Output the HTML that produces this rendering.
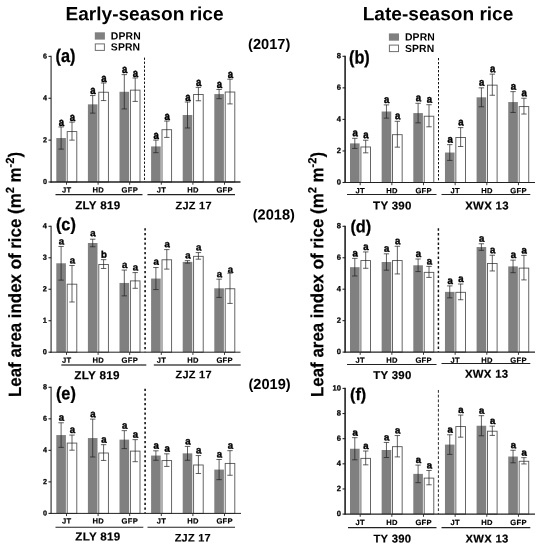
<!DOCTYPE html>
<html lang="en">
<head>
<meta charset="utf-8">
<title>Leaf area index of rice</title>
<style>
html,body{margin:0;padding:0;background:#fff;}
body{width:539px;height:550px;overflow:hidden;}
svg{display:block;font-family:'Liberation Sans', Arial, sans-serif;font-weight:bold;fill:#000;}
svg text.b{stroke:#000;stroke-width:0.25px;stroke-linejoin:round;}
svg text.d{stroke:#000;stroke-width:0.18px;stroke-linejoin:round;}
svg text.c{stroke:#000;stroke-width:0.4px;stroke-linejoin:round;}
</style>
</head>
<body>
<svg width="539" height="550" viewBox="0 0 539 550" font-family="'Liberation Sans', Arial, sans-serif" font-weight="bold" fill="#000">
<rect x="0" y="0" width="539" height="550" fill="#fff"/>
<g>
<line x1="144.5" y1="57.6" x2="144.5" y2="182" stroke="#141414" stroke-width="1.0" stroke-dasharray="2.3 1.7"/>
<rect x="56.3" y="138.04" width="9.6" height="43.96" fill="#808080"/>
<path d="M61.1 126.95V149.13M58.4 126.95H63.8M58.4 149.13H63.8" stroke="#1e1e1e" stroke-width="0.7" fill="none"/>
<text transform="translate(61.4 125.65) rotate(0.03) scale(1 1.2)" class="c" font-size="9.6" text-anchor="middle">a</text>
<rect x="67.2" y="131.58" width="9.6" height="50.42" fill="#fff" stroke="#555555" stroke-width="0.9"/>
<path d="M72 122.13V140.13M69.3 122.13H74.7M69.3 140.13H74.7" stroke="#1e1e1e" stroke-width="0.7" fill="none"/>
<text transform="translate(72.3 120.83) rotate(0.03) scale(1 1.2)" class="c" font-size="9.6" text-anchor="middle">a</text>
<rect x="87.9" y="104.34" width="9.6" height="77.66" fill="#808080"/>
<path d="M92.7 95.55V113.13M90 95.55H95.4M90 113.13H95.4" stroke="#1e1e1e" stroke-width="0.7" fill="none"/>
<text transform="translate(93 94.25) rotate(0.03) scale(1 1.2)" class="c" font-size="9.6" text-anchor="middle">a</text>
<rect x="98.8" y="92.23" width="9.6" height="89.77" fill="#fff" stroke="#555555" stroke-width="0.9"/>
<path d="M103.6 82.99V100.57M100.9 82.99H106.3M100.9 100.57H106.3" stroke="#1e1e1e" stroke-width="0.7" fill="none"/>
<text transform="translate(103.9 81.69) rotate(0.03) scale(1 1.2)" class="c" font-size="9.6" text-anchor="middle">a</text>
<rect x="119.5" y="91.78" width="9.6" height="90.22" fill="#808080"/>
<path d="M124.3 74.61V108.94M121.6 74.61H127M121.6 108.94H127" stroke="#1e1e1e" stroke-width="0.7" fill="none"/>
<text transform="translate(124.6 73.31) rotate(0.03) scale(1 1.2)" class="c" font-size="9.6" text-anchor="middle">a</text>
<rect x="130.4" y="90.13" width="9.6" height="91.87" fill="#fff" stroke="#555555" stroke-width="0.9"/>
<path d="M135.2 77.96V101.41M132.5 77.96H137.9M132.5 101.41H137.9" stroke="#1e1e1e" stroke-width="0.7" fill="none"/>
<text transform="translate(135.5 76.66) rotate(0.03) scale(1 1.2)" class="c" font-size="9.6" text-anchor="middle">a</text>
<rect x="151.1" y="146.41" width="9.6" height="35.59" fill="#808080"/>
<path d="M155.9 140.13V152.69M153.2 140.13H158.6M153.2 152.69H158.6" stroke="#1e1e1e" stroke-width="0.7" fill="none"/>
<text transform="translate(156.2 138.83) rotate(0.03) scale(1 1.2)" class="c" font-size="9.6" text-anchor="middle">a</text>
<rect x="162" y="129.7" width="9.6" height="52.3" fill="#fff" stroke="#555555" stroke-width="0.9"/>
<path d="M166.8 121.08V137.41M164.1 121.08H169.5M164.1 137.41H169.5" stroke="#1e1e1e" stroke-width="0.7" fill="none"/>
<text transform="translate(167.1 119.78) rotate(0.03) scale(1 1.2)" class="c" font-size="9.6" text-anchor="middle">a</text>
<rect x="182.7" y="115.01" width="9.6" height="66.99" fill="#808080"/>
<path d="M187.5 102.03V127.99M184.8 102.03H190.2M184.8 127.99H190.2" stroke="#1e1e1e" stroke-width="0.7" fill="none"/>
<text transform="translate(187.8 100.73) rotate(0.03) scale(1 1.2)" class="c" font-size="9.6" text-anchor="middle">a</text>
<rect x="193.6" y="94.53" width="9.6" height="87.47" fill="#fff" stroke="#555555" stroke-width="0.9"/>
<path d="M198.4 87.38V100.78M195.7 87.38H201.1M195.7 100.78H201.1" stroke="#1e1e1e" stroke-width="0.7" fill="none"/>
<text transform="translate(198.7 86.08) rotate(0.03) scale(1 1.2)" class="c" font-size="9.6" text-anchor="middle">a</text>
<rect x="214.3" y="94.08" width="9.6" height="87.92" fill="#808080"/>
<path d="M219.1 89.47V98.69M216.4 89.47H221.8M216.4 98.69H221.8" stroke="#1e1e1e" stroke-width="0.7" fill="none"/>
<text transform="translate(219.4 88.17) rotate(0.03) scale(1 1.2)" class="c" font-size="9.6" text-anchor="middle">a</text>
<rect x="225.2" y="92.02" width="9.6" height="89.98" fill="#fff" stroke="#555555" stroke-width="0.9"/>
<path d="M230 79.22V103.92M227.3 79.22H232.7M227.3 103.92H232.7" stroke="#1e1e1e" stroke-width="0.7" fill="none"/>
<text transform="translate(230.3 77.92) rotate(0.03) scale(1 1.2)" class="c" font-size="9.6" text-anchor="middle">a</text>
<path d="M51.1 55.8V182.65" stroke="#484848" stroke-width="1.3" fill="none"/>
<path d="M50.45 182H240.5" stroke="#222222" stroke-width="1.3" fill="none"/>
<line x1="48.5" y1="182" x2="51.1" y2="182" stroke="#222222" stroke-width="1.1"/>
<text transform="translate(46.9 184) rotate(0.03)" font-size="7.2" class="b" text-anchor="end">0</text>
<line x1="48.5" y1="140.13" x2="51.1" y2="140.13" stroke="#222222" stroke-width="1.1"/>
<text transform="translate(46.9 142.13) rotate(0.03)" font-size="7.2" class="b" text-anchor="end">2</text>
<line x1="48.5" y1="98.27" x2="51.1" y2="98.27" stroke="#222222" stroke-width="1.1"/>
<text transform="translate(46.9 100.27) rotate(0.03)" font-size="7.2" class="b" text-anchor="end">4</text>
<line x1="48.5" y1="56.4" x2="51.1" y2="56.4" stroke="#222222" stroke-width="1.1"/>
<text transform="translate(46.9 58.4) rotate(0.03)" font-size="7.2" class="b" text-anchor="end">6</text>
<text transform="translate(55.6 62) rotate(0.03) scale(1 1.13)" class="b" font-size="16.3">(a)</text>
<text transform="translate(66.6 192.4) rotate(0.03)" class="d" font-size="7.6" text-anchor="middle" letter-spacing="0.25">JT</text>
<line x1="66.5" y1="182" x2="66.5" y2="184.7" stroke="#222222" stroke-width="0.9"/>
<text transform="translate(98.2 192.4) rotate(0.03)" class="d" font-size="7.6" text-anchor="middle" letter-spacing="0.25">HD</text>
<line x1="98.1" y1="182" x2="98.1" y2="184.7" stroke="#222222" stroke-width="0.9"/>
<text transform="translate(129.8 192.4) rotate(0.03)" class="d" font-size="7.6" text-anchor="middle" letter-spacing="0.25">GFP</text>
<line x1="129.7" y1="182" x2="129.7" y2="184.7" stroke="#222222" stroke-width="0.9"/>
<text transform="translate(161.4 192.4) rotate(0.03)" class="d" font-size="7.6" text-anchor="middle" letter-spacing="0.25">JT</text>
<line x1="161.3" y1="182" x2="161.3" y2="184.7" stroke="#222222" stroke-width="0.9"/>
<text transform="translate(193 192.4) rotate(0.03)" class="d" font-size="7.6" text-anchor="middle" letter-spacing="0.25">HD</text>
<line x1="192.9" y1="182" x2="192.9" y2="184.7" stroke="#222222" stroke-width="0.9"/>
<text transform="translate(224.6 192.4) rotate(0.03)" class="d" font-size="7.6" text-anchor="middle" letter-spacing="0.25">GFP</text>
<line x1="224.5" y1="182" x2="224.5" y2="184.7" stroke="#222222" stroke-width="0.9"/>
<line x1="55.5" y1="194.6" x2="142.5" y2="194.6" stroke="#222" stroke-width="1.05"/>
<line x1="147.5" y1="194.6" x2="235" y2="194.6" stroke="#222" stroke-width="1.05"/>
<text transform="translate(97.8 209.2) rotate(0.03)" class="d" font-size="11.6" text-anchor="middle" letter-spacing="0.3">ZLY 819</text>
<text transform="translate(193.6 209.2) rotate(0.03)" class="d" font-size="10.9" text-anchor="middle" letter-spacing="0.3">ZJZ 17</text>
</g>
<g>
<line x1="438.5" y1="58" x2="438.5" y2="182.5" stroke="#141414" stroke-width="1.0" stroke-dasharray="2.3 1.7"/>
<rect x="350" y="143.38" width="9.6" height="39.12" fill="#808080"/>
<path d="M354.8 138.33V148.43M352.1 138.33H357.5M352.1 148.43H357.5" stroke="#1e1e1e" stroke-width="0.7" fill="none"/>
<text transform="translate(355.1 136.33) rotate(0.03) scale(1 1.13)" class="c" font-size="9.6" text-anchor="middle">a</text>
<rect x="360.9" y="146.98" width="9.6" height="35.52" fill="#fff" stroke="#555555" stroke-width="0.9"/>
<path d="M365.7 140.22V152.84M363 140.22H368.4M363 152.84H368.4" stroke="#1e1e1e" stroke-width="0.7" fill="none"/>
<text transform="translate(366 138.22) rotate(0.03) scale(1 1.13)" class="c" font-size="9.6" text-anchor="middle">a</text>
<rect x="381.65" y="111.51" width="9.6" height="70.99" fill="#808080"/>
<path d="M386.45 104.89V118.14M383.75 104.89H389.15M383.75 118.14H389.15" stroke="#1e1e1e" stroke-width="0.7" fill="none"/>
<text transform="translate(386.75 102.89) rotate(0.03) scale(1 1.13)" class="c" font-size="9.6" text-anchor="middle">a</text>
<rect x="392.55" y="134.68" width="9.6" height="47.82" fill="#fff" stroke="#555555" stroke-width="0.9"/>
<path d="M397.35 121.29V147.16M394.65 121.29H400.05M394.65 147.16H400.05" stroke="#1e1e1e" stroke-width="0.7" fill="none"/>
<text transform="translate(397.65 119.29) rotate(0.03) scale(1 1.13)" class="c" font-size="9.6" text-anchor="middle">a</text>
<rect x="413.3" y="113.09" width="9.6" height="69.41" fill="#808080"/>
<path d="M418.1 103.31V122.87M415.4 103.31H420.8M415.4 122.87H420.8" stroke="#1e1e1e" stroke-width="0.7" fill="none"/>
<text transform="translate(418.4 101.31) rotate(0.03) scale(1 1.13)" class="c" font-size="9.6" text-anchor="middle">a</text>
<rect x="424.2" y="116.22" width="9.6" height="66.28" fill="#fff" stroke="#555555" stroke-width="0.9"/>
<path d="M429 104.73V126.81M426.3 104.73H431.7M426.3 126.81H431.7" stroke="#1e1e1e" stroke-width="0.7" fill="none"/>
<text transform="translate(429.3 102.73) rotate(0.03) scale(1 1.13)" class="c" font-size="9.6" text-anchor="middle">a</text>
<rect x="444.95" y="152.53" width="9.6" height="29.97" fill="#808080"/>
<path d="M449.75 144.64V160.41M447.05 144.64H452.45M447.05 160.41H452.45" stroke="#1e1e1e" stroke-width="0.7" fill="none"/>
<text transform="translate(450.05 142.64) rotate(0.03) scale(1 1.13)" class="c" font-size="9.6" text-anchor="middle">a</text>
<rect x="455.85" y="137.52" width="9.6" height="44.98" fill="#fff" stroke="#555555" stroke-width="0.9"/>
<path d="M460.65 127.6V146.53M457.95 127.6H463.35M457.95 146.53H463.35" stroke="#1e1e1e" stroke-width="0.7" fill="none"/>
<text transform="translate(460.95 125.6) rotate(0.03) scale(1 1.13)" class="c" font-size="9.6" text-anchor="middle">a</text>
<rect x="476.6" y="97.31" width="9.6" height="85.19" fill="#808080"/>
<path d="M481.4 87.85V106.78M478.7 87.85H484.1M478.7 106.78H484.1" stroke="#1e1e1e" stroke-width="0.7" fill="none"/>
<text transform="translate(481.7 85.85) rotate(0.03) scale(1 1.13)" class="c" font-size="9.6" text-anchor="middle">a</text>
<rect x="487.5" y="85.14" width="9.6" height="97.36" fill="#fff" stroke="#555555" stroke-width="0.9"/>
<path d="M492.3 74.13V95.26M489.6 74.13H495M489.6 95.26H495" stroke="#1e1e1e" stroke-width="0.7" fill="none"/>
<text transform="translate(492.6 72.13) rotate(0.03) scale(1 1.13)" class="c" font-size="9.6" text-anchor="middle">a</text>
<rect x="508.25" y="102.05" width="9.6" height="80.45" fill="#808080"/>
<path d="M513.05 91.64V112.46M510.35 91.64H515.75M510.35 112.46H515.75" stroke="#1e1e1e" stroke-width="0.7" fill="none"/>
<text transform="translate(513.35 89.64) rotate(0.03) scale(1 1.13)" class="c" font-size="9.6" text-anchor="middle">a</text>
<rect x="519.15" y="106.6" width="9.6" height="75.9" fill="#fff" stroke="#555555" stroke-width="0.9"/>
<path d="M523.95 98.26V114.04M521.25 98.26H526.65M521.25 114.04H526.65" stroke="#1e1e1e" stroke-width="0.7" fill="none"/>
<text transform="translate(524.25 96.26) rotate(0.03) scale(1 1.13)" class="c" font-size="9.6" text-anchor="middle">a</text>
<path d="M345.1 55.7V183.03" stroke="#222222" stroke-width="1.6" fill="none"/>
<path d="M344.45 182.5H535" stroke="#222222" stroke-width="1.05" fill="none"/>
<line x1="342.5" y1="182.5" x2="345.1" y2="182.5" stroke="#222222" stroke-width="1.1"/>
<text transform="translate(340.9 184.5) rotate(0.03)" font-size="7.6" class="b" text-anchor="end">0</text>
<line x1="342.5" y1="150.95" x2="345.1" y2="150.95" stroke="#222222" stroke-width="1.1"/>
<text transform="translate(340.9 152.95) rotate(0.03)" font-size="7.6" class="b" text-anchor="end">2</text>
<line x1="342.5" y1="119.4" x2="345.1" y2="119.4" stroke="#222222" stroke-width="1.1"/>
<text transform="translate(340.9 121.4) rotate(0.03)" font-size="7.6" class="b" text-anchor="end">4</text>
<line x1="342.5" y1="87.85" x2="345.1" y2="87.85" stroke="#222222" stroke-width="1.1"/>
<text transform="translate(340.9 89.85) rotate(0.03)" font-size="7.6" class="b" text-anchor="end">6</text>
<line x1="342.5" y1="56.3" x2="345.1" y2="56.3" stroke="#222222" stroke-width="1.1"/>
<text transform="translate(340.9 58.3) rotate(0.03)" font-size="7.6" class="b" text-anchor="end">8</text>
<text transform="translate(349 63.4) rotate(0.03) scale(1 1.13)" class="b" font-size="16.3">(b)</text>
<text transform="translate(360.3 193.2) rotate(0.03)" class="d" font-size="7.6" text-anchor="middle" letter-spacing="0.25">JT</text>
<line x1="360.2" y1="182.5" x2="360.2" y2="185.2" stroke="#222222" stroke-width="0.9"/>
<text transform="translate(391.95 193.2) rotate(0.03)" class="d" font-size="7.6" text-anchor="middle" letter-spacing="0.25">HD</text>
<line x1="391.85" y1="182.5" x2="391.85" y2="185.2" stroke="#222222" stroke-width="0.9"/>
<text transform="translate(423.6 193.2) rotate(0.03)" class="d" font-size="7.6" text-anchor="middle" letter-spacing="0.25">GFP</text>
<line x1="423.5" y1="182.5" x2="423.5" y2="185.2" stroke="#222222" stroke-width="0.9"/>
<text transform="translate(455.25 193.2) rotate(0.03)" class="d" font-size="7.6" text-anchor="middle" letter-spacing="0.25">JT</text>
<line x1="455.15" y1="182.5" x2="455.15" y2="185.2" stroke="#222222" stroke-width="0.9"/>
<text transform="translate(486.9 193.2) rotate(0.03)" class="d" font-size="7.6" text-anchor="middle" letter-spacing="0.25">HD</text>
<line x1="486.8" y1="182.5" x2="486.8" y2="185.2" stroke="#222222" stroke-width="0.9"/>
<text transform="translate(518.55 193.2) rotate(0.03)" class="d" font-size="7.6" text-anchor="middle" letter-spacing="0.25">GFP</text>
<line x1="518.45" y1="182.5" x2="518.45" y2="185.2" stroke="#222222" stroke-width="0.9"/>
<line x1="347" y1="194.4" x2="436.5" y2="194.4" stroke="#222" stroke-width="1.05"/>
<line x1="441.5" y1="194.4" x2="530.3" y2="194.4" stroke="#222" stroke-width="1.05"/>
<text transform="translate(392.4 209.5) rotate(0.03)" class="d" font-size="11.5" text-anchor="middle" letter-spacing="0.3">TY 390</text>
<text transform="translate(487 209.5) rotate(0.03)" class="d" font-size="11.4" text-anchor="middle" letter-spacing="0.3">XWX 13</text>
</g>
<g>
<line x1="145.1" y1="228.3" x2="145.1" y2="352.2" stroke="#141414" stroke-width="1.6" stroke-dasharray="2.1 2.65"/>
<rect x="56.3" y="263.28" width="9.6" height="88.92" fill="#808080"/>
<path d="M61.1 246.44V280.12M58.4 246.44H63.8M58.4 280.12H63.8" stroke="#1e1e1e" stroke-width="0.7" fill="none"/>
<text transform="translate(61.4 244.44) rotate(0.03) scale(1 1.02)" class="c" font-size="9.6" text-anchor="middle">a</text>
<rect x="67.2" y="284.19" width="9.6" height="68.01" fill="#fff" stroke="#555555" stroke-width="0.9"/>
<path d="M72 265.49V302M69.3 265.49H74.7M69.3 302H74.7" stroke="#1e1e1e" stroke-width="0.7" fill="none"/>
<text transform="translate(72.3 263.49) rotate(0.03) scale(1 1.02)" class="c" font-size="9.6" text-anchor="middle">a</text>
<rect x="87.9" y="242.98" width="9.6" height="109.22" fill="#808080"/>
<path d="M92.7 239.2V246.76M90 239.2H95.4M90 246.76H95.4" stroke="#1e1e1e" stroke-width="0.7" fill="none"/>
<text transform="translate(93 236.3) rotate(0.03) scale(1 1.02)" class="c" font-size="9.6" text-anchor="middle">a</text>
<rect x="98.8" y="264.52" width="9.6" height="87.68" fill="#fff" stroke="#555555" stroke-width="0.9"/>
<path d="M103.6 259.66V268.48M100.9 259.66H106.3M100.9 268.48H106.3" stroke="#1e1e1e" stroke-width="0.7" fill="none"/>
<text transform="translate(103.9 257.66) rotate(0.03) scale(1 1.02)" class="c" font-size="9.6" text-anchor="middle">b</text>
<rect x="119.5" y="282.95" width="9.6" height="69.25" fill="#808080"/>
<path d="M124.3 270.05V295.86M121.6 270.05H127M121.6 295.86H127" stroke="#1e1e1e" stroke-width="0.7" fill="none"/>
<text transform="translate(124.6 268.05) rotate(0.03) scale(1 1.02)" class="c" font-size="9.6" text-anchor="middle">a</text>
<rect x="130.4" y="280.89" width="9.6" height="71.31" fill="#fff" stroke="#555555" stroke-width="0.9"/>
<path d="M135.2 272.57V288.31M132.5 272.57H137.9M132.5 288.31H137.9" stroke="#1e1e1e" stroke-width="0.7" fill="none"/>
<text transform="translate(135.5 270.57) rotate(0.03) scale(1 1.02)" class="c" font-size="9.6" text-anchor="middle">a</text>
<rect x="151.1" y="278.55" width="9.6" height="73.65" fill="#808080"/>
<path d="M155.9 267.53V289.56M153.2 267.53H158.6M153.2 289.56H158.6" stroke="#1e1e1e" stroke-width="0.7" fill="none"/>
<text transform="translate(156.2 264.73) rotate(0.03) scale(1 1.02)" class="c" font-size="9.6" text-anchor="middle">a</text>
<rect x="162" y="259.8" width="9.6" height="92.4" fill="#fff" stroke="#555555" stroke-width="0.9"/>
<path d="M166.8 249.59V269.11M164.1 249.59H169.5M164.1 269.11H169.5" stroke="#1e1e1e" stroke-width="0.7" fill="none"/>
<text transform="translate(167.1 247.19) rotate(0.03) scale(1 1.02)" class="c" font-size="9.6" text-anchor="middle">a</text>
<rect x="182.7" y="261.87" width="9.6" height="90.33" fill="#808080"/>
<path d="M187.5 260.61V263.13M184.8 260.61H190.2M184.8 263.13H190.2" stroke="#1e1e1e" stroke-width="0.7" fill="none"/>
<text transform="translate(187.8 258.61) rotate(0.03) scale(1 1.02)" class="c" font-size="9.6" text-anchor="middle">a</text>
<rect x="193.6" y="256.34" width="9.6" height="95.86" fill="#fff" stroke="#555555" stroke-width="0.9"/>
<path d="M198.4 252.58V259.19M195.7 252.58H201.1M195.7 259.19H201.1" stroke="#1e1e1e" stroke-width="0.7" fill="none"/>
<text transform="translate(198.7 250.58) rotate(0.03) scale(1 1.02)" class="c" font-size="9.6" text-anchor="middle">a</text>
<rect x="214.3" y="288.31" width="9.6" height="63.89" fill="#808080"/>
<path d="M219.1 279.18V297.43M216.4 279.18H221.8M216.4 297.43H221.8" stroke="#1e1e1e" stroke-width="0.7" fill="none"/>
<text transform="translate(219.4 277.18) rotate(0.03) scale(1 1.02)" class="c" font-size="9.6" text-anchor="middle">a</text>
<rect x="225.2" y="288.76" width="9.6" height="63.44" fill="#fff" stroke="#555555" stroke-width="0.9"/>
<path d="M230 273.2V303.41M227.3 273.2H232.7M227.3 303.41H232.7" stroke="#1e1e1e" stroke-width="0.7" fill="none"/>
<text transform="translate(230.3 272.7) rotate(0.03) scale(1 1.02)" class="c" font-size="9.6" text-anchor="middle">a</text>
<path d="M51.1 225.7V352.7" stroke="#484848" stroke-width="1.3" fill="none"/>
<path d="M50.45 352.2H240.5" stroke="#222222" stroke-width="1.0" fill="none"/>
<line x1="48.5" y1="352.2" x2="51.1" y2="352.2" stroke="#222222" stroke-width="1.1"/>
<text transform="translate(46.9 354.2) rotate(0.03)" font-size="7.4" class="b" text-anchor="end">0</text>
<line x1="48.5" y1="320.73" x2="51.1" y2="320.73" stroke="#222222" stroke-width="1.1"/>
<text transform="translate(46.9 322.73) rotate(0.03)" font-size="7.4" class="b" text-anchor="end">1</text>
<line x1="48.5" y1="289.25" x2="51.1" y2="289.25" stroke="#222222" stroke-width="1.1"/>
<text transform="translate(46.9 291.25) rotate(0.03)" font-size="7.4" class="b" text-anchor="end">2</text>
<line x1="48.5" y1="257.77" x2="51.1" y2="257.77" stroke="#222222" stroke-width="1.1"/>
<text transform="translate(46.9 259.77) rotate(0.03)" font-size="7.4" class="b" text-anchor="end">3</text>
<line x1="48.5" y1="226.3" x2="51.1" y2="226.3" stroke="#222222" stroke-width="1.1"/>
<text transform="translate(46.9 228.3) rotate(0.03)" font-size="7.4" class="b" text-anchor="end">4</text>
<text transform="translate(55.9 230.2) rotate(0.03) scale(1 1.07)" class="b" font-size="16.3">(c)</text>
<text transform="translate(66.6 362.8) rotate(0.03)" class="d" font-size="7.6" text-anchor="middle" letter-spacing="0.25">JT</text>
<line x1="66.5" y1="352.2" x2="66.5" y2="354.9" stroke="#222222" stroke-width="0.9"/>
<text transform="translate(98.2 362.8) rotate(0.03)" class="d" font-size="7.6" text-anchor="middle" letter-spacing="0.25">HD</text>
<line x1="98.1" y1="352.2" x2="98.1" y2="354.9" stroke="#222222" stroke-width="0.9"/>
<text transform="translate(129.8 362.8) rotate(0.03)" class="d" font-size="7.6" text-anchor="middle" letter-spacing="0.25">GFP</text>
<line x1="129.7" y1="352.2" x2="129.7" y2="354.9" stroke="#222222" stroke-width="0.9"/>
<text transform="translate(161.4 362.8) rotate(0.03)" class="d" font-size="7.6" text-anchor="middle" letter-spacing="0.25">JT</text>
<line x1="161.3" y1="352.2" x2="161.3" y2="354.9" stroke="#222222" stroke-width="0.9"/>
<text transform="translate(193 362.8) rotate(0.03)" class="d" font-size="7.6" text-anchor="middle" letter-spacing="0.25">HD</text>
<line x1="192.9" y1="352.2" x2="192.9" y2="354.9" stroke="#222222" stroke-width="0.9"/>
<text transform="translate(224.6 362.8) rotate(0.03)" class="d" font-size="7.6" text-anchor="middle" letter-spacing="0.25">GFP</text>
<line x1="224.5" y1="352.2" x2="224.5" y2="354.9" stroke="#222222" stroke-width="0.9"/>
<line x1="61.3" y1="365.1" x2="146.3" y2="365.1" stroke="#4a4a4a" stroke-width="1.5"/>
<line x1="153.8" y1="365.1" x2="240.7" y2="365.1" stroke="#4a4a4a" stroke-width="1.5"/>
<text transform="translate(97.1 379.3) rotate(0.03)" class="d" font-size="11.7" text-anchor="middle" letter-spacing="0.3">ZLY 819</text>
<text transform="translate(193.6 378.2) rotate(0.03)" class="d" font-size="10.9" text-anchor="middle" letter-spacing="0.3">ZJZ 17</text>
</g>
<g>
<line x1="438.4" y1="228.2" x2="438.4" y2="352.1" stroke="#141414" stroke-width="1.45" stroke-dasharray="2.5 2.23"/>
<rect x="350" y="267.19" width="9.6" height="84.92" fill="#808080"/>
<path d="M354.8 258.38V275.99M352.1 258.38H357.5M352.1 275.99H357.5" stroke="#1e1e1e" stroke-width="0.7" fill="none"/>
<text transform="translate(355.1 256.38) rotate(0.03) scale(1 1.09)" class="c" font-size="9.6" text-anchor="middle">a</text>
<rect x="360.9" y="260.56" width="9.6" height="91.54" fill="#fff" stroke="#555555" stroke-width="0.9"/>
<path d="M365.7 251.93V268.29M363 251.93H368.4M363 268.29H368.4" stroke="#1e1e1e" stroke-width="0.7" fill="none"/>
<text transform="translate(366 249.93) rotate(0.03) scale(1 1.09)" class="c" font-size="9.6" text-anchor="middle">a</text>
<rect x="381.65" y="262" width="9.6" height="90.1" fill="#808080"/>
<path d="M386.45 253.82V270.17M383.75 253.82H389.15M383.75 270.17H389.15" stroke="#1e1e1e" stroke-width="0.7" fill="none"/>
<text transform="translate(386.75 251.82) rotate(0.03) scale(1 1.09)" class="c" font-size="9.6" text-anchor="middle">a</text>
<rect x="392.55" y="260.56" width="9.6" height="91.54" fill="#fff" stroke="#555555" stroke-width="0.9"/>
<path d="M397.35 246.27V273.95M394.65 246.27H400.05M394.65 273.95H400.05" stroke="#1e1e1e" stroke-width="0.7" fill="none"/>
<text transform="translate(397.65 244.27) rotate(0.03) scale(1 1.09)" class="c" font-size="9.6" text-anchor="middle">a</text>
<rect x="413.3" y="265.3" width="9.6" height="86.8" fill="#808080"/>
<path d="M418.1 259.01V271.59M415.4 259.01H420.8M415.4 271.59H420.8" stroke="#1e1e1e" stroke-width="0.7" fill="none"/>
<text transform="translate(418.4 257.01) rotate(0.03) scale(1 1.09)" class="c" font-size="9.6" text-anchor="middle">a</text>
<rect x="424.2" y="272.35" width="9.6" height="79.75" fill="#fff" stroke="#555555" stroke-width="0.9"/>
<path d="M429 266.4V277.41M426.3 266.4H431.7M426.3 277.41H431.7" stroke="#1e1e1e" stroke-width="0.7" fill="none"/>
<text transform="translate(429.3 264.4) rotate(0.03) scale(1 1.09)" class="c" font-size="9.6" text-anchor="middle">a</text>
<rect x="444.95" y="291.87" width="9.6" height="60.23" fill="#808080"/>
<path d="M449.75 285.9V297.85M447.05 285.9H452.45M447.05 297.85H452.45" stroke="#1e1e1e" stroke-width="0.7" fill="none"/>
<text transform="translate(450.05 283.9) rotate(0.03) scale(1 1.09)" class="c" font-size="9.6" text-anchor="middle">a</text>
<rect x="455.85" y="292.32" width="9.6" height="59.78" fill="#fff" stroke="#555555" stroke-width="0.9"/>
<path d="M460.65 284.01V299.74M457.95 284.01H463.35M457.95 299.74H463.35" stroke="#1e1e1e" stroke-width="0.7" fill="none"/>
<text transform="translate(460.95 282.01) rotate(0.03) scale(1 1.09)" class="c" font-size="9.6" text-anchor="middle">a</text>
<rect x="476.6" y="247.06" width="9.6" height="105.04" fill="#808080"/>
<path d="M481.4 243.75V250.36M478.7 243.75H484.1M478.7 250.36H484.1" stroke="#1e1e1e" stroke-width="0.7" fill="none"/>
<text transform="translate(481.7 241.75) rotate(0.03) scale(1 1.09)" class="c" font-size="9.6" text-anchor="middle">a</text>
<rect x="487.5" y="263.55" width="9.6" height="88.55" fill="#fff" stroke="#555555" stroke-width="0.9"/>
<path d="M492.3 255.23V270.96M489.6 255.23H495M489.6 270.96H495" stroke="#1e1e1e" stroke-width="0.7" fill="none"/>
<text transform="translate(492.6 253.23) rotate(0.03) scale(1 1.09)" class="c" font-size="9.6" text-anchor="middle">a</text>
<rect x="508.25" y="266.4" width="9.6" height="85.7" fill="#808080"/>
<path d="M513.05 260.11V272.69M510.35 260.11H515.75M510.35 272.69H515.75" stroke="#1e1e1e" stroke-width="0.7" fill="none"/>
<text transform="translate(513.35 258.11) rotate(0.03) scale(1 1.09)" class="c" font-size="9.6" text-anchor="middle">a</text>
<rect x="519.15" y="268.11" width="9.6" height="83.99" fill="#fff" stroke="#555555" stroke-width="0.9"/>
<path d="M523.95 255.39V279.92M521.25 255.39H526.65M521.25 279.92H526.65" stroke="#1e1e1e" stroke-width="0.7" fill="none"/>
<text transform="translate(524.25 253.39) rotate(0.03) scale(1 1.09)" class="c" font-size="9.6" text-anchor="middle">a</text>
<path d="M345.1 225.7V352.62" stroke="#222222" stroke-width="1.6" fill="none"/>
<path d="M344.45 352.1H535" stroke="#222222" stroke-width="1.05" fill="none"/>
<line x1="342.5" y1="352.1" x2="345.1" y2="352.1" stroke="#222222" stroke-width="1.1"/>
<text transform="translate(340.9 354.1) rotate(0.03)" font-size="7.6" class="b" text-anchor="end">0</text>
<line x1="342.5" y1="320.65" x2="345.1" y2="320.65" stroke="#222222" stroke-width="1.1"/>
<text transform="translate(340.9 322.65) rotate(0.03)" font-size="7.6" class="b" text-anchor="end">2</text>
<line x1="342.5" y1="289.2" x2="345.1" y2="289.2" stroke="#222222" stroke-width="1.1"/>
<text transform="translate(340.9 291.2) rotate(0.03)" font-size="7.6" class="b" text-anchor="end">4</text>
<line x1="342.5" y1="257.75" x2="345.1" y2="257.75" stroke="#222222" stroke-width="1.1"/>
<text transform="translate(340.9 259.75) rotate(0.03)" font-size="7.6" class="b" text-anchor="end">6</text>
<line x1="342.5" y1="226.3" x2="345.1" y2="226.3" stroke="#222222" stroke-width="1.1"/>
<text transform="translate(340.9 228.3) rotate(0.03)" font-size="7.6" class="b" text-anchor="end">8</text>
<text transform="translate(350.4 232.2) rotate(0.03) scale(1 1.05)" class="b" font-size="16.3">(d)</text>
<text transform="translate(360.3 362.8) rotate(0.03)" class="d" font-size="7.6" text-anchor="middle" letter-spacing="0.25">JT</text>
<line x1="360.2" y1="352.1" x2="360.2" y2="354.8" stroke="#222222" stroke-width="0.9"/>
<text transform="translate(391.95 362.8) rotate(0.03)" class="d" font-size="7.6" text-anchor="middle" letter-spacing="0.25">HD</text>
<line x1="391.85" y1="352.1" x2="391.85" y2="354.8" stroke="#222222" stroke-width="0.9"/>
<text transform="translate(423.6 362.8) rotate(0.03)" class="d" font-size="7.6" text-anchor="middle" letter-spacing="0.25">GFP</text>
<line x1="423.5" y1="352.1" x2="423.5" y2="354.8" stroke="#222222" stroke-width="0.9"/>
<text transform="translate(455.25 362.8) rotate(0.03)" class="d" font-size="7.6" text-anchor="middle" letter-spacing="0.25">JT</text>
<line x1="455.15" y1="352.1" x2="455.15" y2="354.8" stroke="#222222" stroke-width="0.9"/>
<text transform="translate(486.9 362.8) rotate(0.03)" class="d" font-size="7.6" text-anchor="middle" letter-spacing="0.25">HD</text>
<line x1="486.8" y1="352.1" x2="486.8" y2="354.8" stroke="#222222" stroke-width="0.9"/>
<text transform="translate(518.55 362.8) rotate(0.03)" class="d" font-size="7.6" text-anchor="middle" letter-spacing="0.25">GFP</text>
<line x1="518.45" y1="352.1" x2="518.45" y2="354.8" stroke="#222222" stroke-width="0.9"/>
<line x1="347" y1="364.4" x2="436.5" y2="364.4" stroke="#222" stroke-width="1.05"/>
<line x1="441.5" y1="363.4" x2="530.3" y2="363.4" stroke="#222" stroke-width="1.05"/>
<text transform="translate(392.4 379.1) rotate(0.03)" class="d" font-size="11.4" text-anchor="middle" letter-spacing="0.3">TY 390</text>
<text transform="translate(486.7 377.8) rotate(0.03)" class="d" font-size="11.4" text-anchor="middle" letter-spacing="0.3">XWX 13</text>
</g>
<g>
<line x1="145.1" y1="388.8" x2="145.1" y2="513.4" stroke="#141414" stroke-width="1.6" stroke-dasharray="2.1 2.65"/>
<rect x="56.3" y="435.06" width="9.6" height="78.34" fill="#808080"/>
<path d="M61.1 422.77V447.36M58.4 422.77H63.8M58.4 447.36H63.8" stroke="#1e1e1e" stroke-width="0.7" fill="none"/>
<text transform="translate(61.4 420.77) rotate(0.03) scale(1 1.08)" class="c" font-size="9.6" text-anchor="middle">a</text>
<rect x="67.2" y="443.08" width="9.6" height="70.32" fill="#fff" stroke="#555555" stroke-width="0.9"/>
<path d="M72 435.06V450.19M69.3 435.06H74.7M69.3 450.19H74.7" stroke="#1e1e1e" stroke-width="0.7" fill="none"/>
<text transform="translate(72.3 433.06) rotate(0.03) scale(1 1.08)" class="c" font-size="9.6" text-anchor="middle">a</text>
<rect x="87.9" y="438.06" width="9.6" height="75.34" fill="#808080"/>
<path d="M92.7 419.14V456.97M90 419.14H95.4M90 456.97H95.4" stroke="#1e1e1e" stroke-width="0.7" fill="none"/>
<text transform="translate(93 417.14) rotate(0.03) scale(1 1.08)" class="c" font-size="9.6" text-anchor="middle">a</text>
<rect x="98.8" y="453.01" width="9.6" height="60.39" fill="#fff" stroke="#555555" stroke-width="0.9"/>
<path d="M103.6 444.68V460.44M100.9 444.68H106.3M100.9 460.44H106.3" stroke="#1e1e1e" stroke-width="0.7" fill="none"/>
<text transform="translate(103.9 442.68) rotate(0.03) scale(1 1.08)" class="c" font-size="9.6" text-anchor="middle">a</text>
<rect x="119.5" y="439.63" width="9.6" height="73.77" fill="#808080"/>
<path d="M124.3 430.65V448.62M121.6 430.65H127M121.6 448.62H127" stroke="#1e1e1e" stroke-width="0.7" fill="none"/>
<text transform="translate(124.6 428.65) rotate(0.03) scale(1 1.08)" class="c" font-size="9.6" text-anchor="middle">a</text>
<rect x="130.4" y="451.12" width="9.6" height="62.28" fill="#fff" stroke="#555555" stroke-width="0.9"/>
<path d="M135.2 439.63V461.7M132.5 439.63H137.9M132.5 461.7H137.9" stroke="#1e1e1e" stroke-width="0.7" fill="none"/>
<text transform="translate(135.5 437.63) rotate(0.03) scale(1 1.08)" class="c" font-size="9.6" text-anchor="middle">a</text>
<rect x="151.1" y="455.55" width="9.6" height="57.85" fill="#808080"/>
<path d="M155.9 450.82V460.28M153.2 450.82H158.6M153.2 460.28H158.6" stroke="#1e1e1e" stroke-width="0.7" fill="none"/>
<text transform="translate(156.2 448.82) rotate(0.03) scale(1 1.08)" class="c" font-size="9.6" text-anchor="middle">a</text>
<rect x="162" y="460.57" width="9.6" height="52.83" fill="#fff" stroke="#555555" stroke-width="0.9"/>
<path d="M166.8 453.82V466.43M164.1 453.82H169.5M164.1 466.43H169.5" stroke="#1e1e1e" stroke-width="0.7" fill="none"/>
<text transform="translate(167.1 451.82) rotate(0.03) scale(1 1.08)" class="c" font-size="9.6" text-anchor="middle">a</text>
<rect x="182.7" y="453.34" width="9.6" height="60.06" fill="#808080"/>
<path d="M187.5 446.41V460.28M184.8 446.41H190.2M184.8 460.28H190.2" stroke="#1e1e1e" stroke-width="0.7" fill="none"/>
<text transform="translate(187.8 444.41) rotate(0.03) scale(1 1.08)" class="c" font-size="9.6" text-anchor="middle">a</text>
<rect x="193.6" y="464.99" width="9.6" height="48.41" fill="#fff" stroke="#555555" stroke-width="0.9"/>
<path d="M198.4 455.55V473.52M195.7 455.55H201.1M195.7 473.52H201.1" stroke="#1e1e1e" stroke-width="0.7" fill="none"/>
<text transform="translate(198.7 453.55) rotate(0.03) scale(1 1.08)" class="c" font-size="9.6" text-anchor="middle">a</text>
<rect x="214.3" y="469.58" width="9.6" height="43.82" fill="#808080"/>
<path d="M219.1 459.49V479.67M216.4 459.49H221.8M216.4 479.67H221.8" stroke="#1e1e1e" stroke-width="0.7" fill="none"/>
<text transform="translate(219.4 457.49) rotate(0.03) scale(1 1.08)" class="c" font-size="9.6" text-anchor="middle">a</text>
<rect x="225.2" y="463.41" width="9.6" height="49.99" fill="#fff" stroke="#555555" stroke-width="0.9"/>
<path d="M230 450.67V475.25M227.3 450.67H232.7M227.3 475.25H232.7" stroke="#1e1e1e" stroke-width="0.7" fill="none"/>
<text transform="translate(230.3 448.67) rotate(0.03) scale(1 1.08)" class="c" font-size="9.6" text-anchor="middle">a</text>
<path d="M51.1 386.7V513.9" stroke="#484848" stroke-width="1.3" fill="none"/>
<path d="M50.45 513.4H241" stroke="#222222" stroke-width="1.0" fill="none"/>
<line x1="48.5" y1="513.4" x2="51.1" y2="513.4" stroke="#222222" stroke-width="1.1"/>
<text transform="translate(46.9 515.4) rotate(0.03)" font-size="7.2" class="b" text-anchor="end">0</text>
<line x1="48.5" y1="481.88" x2="51.1" y2="481.88" stroke="#222222" stroke-width="1.1"/>
<text transform="translate(46.9 483.88) rotate(0.03)" font-size="7.2" class="b" text-anchor="end">2</text>
<line x1="48.5" y1="450.35" x2="51.1" y2="450.35" stroke="#222222" stroke-width="1.1"/>
<text transform="translate(46.9 452.35) rotate(0.03)" font-size="7.2" class="b" text-anchor="end">4</text>
<line x1="48.5" y1="418.82" x2="51.1" y2="418.82" stroke="#222222" stroke-width="1.1"/>
<text transform="translate(46.9 420.82) rotate(0.03)" font-size="7.2" class="b" text-anchor="end">6</text>
<line x1="48.5" y1="387.3" x2="51.1" y2="387.3" stroke="#222222" stroke-width="1.1"/>
<text transform="translate(46.9 389.3) rotate(0.03)" font-size="7.2" class="b" text-anchor="end">8</text>
<text transform="translate(55.9 399.3) rotate(0.03) scale(1 1.08)" class="b" font-size="16.3">(e)</text>
<text transform="translate(66.6 523.5) rotate(0.03)" class="d" font-size="7.6" text-anchor="middle" letter-spacing="0.25">JT</text>
<line x1="66.5" y1="513.4" x2="66.5" y2="516.1" stroke="#222222" stroke-width="0.9"/>
<text transform="translate(98.2 523.5) rotate(0.03)" class="d" font-size="7.6" text-anchor="middle" letter-spacing="0.25">HD</text>
<line x1="98.1" y1="513.4" x2="98.1" y2="516.1" stroke="#222222" stroke-width="0.9"/>
<text transform="translate(129.8 523.5) rotate(0.03)" class="d" font-size="7.6" text-anchor="middle" letter-spacing="0.25">GFP</text>
<line x1="129.7" y1="513.4" x2="129.7" y2="516.1" stroke="#222222" stroke-width="0.9"/>
<text transform="translate(161.4 523.5) rotate(0.03)" class="d" font-size="7.6" text-anchor="middle" letter-spacing="0.25">JT</text>
<line x1="161.3" y1="513.4" x2="161.3" y2="516.1" stroke="#222222" stroke-width="0.9"/>
<text transform="translate(193 523.5) rotate(0.03)" class="d" font-size="7.6" text-anchor="middle" letter-spacing="0.25">HD</text>
<line x1="192.9" y1="513.4" x2="192.9" y2="516.1" stroke="#222222" stroke-width="0.9"/>
<text transform="translate(224.6 523.5) rotate(0.03)" class="d" font-size="7.6" text-anchor="middle" letter-spacing="0.25">GFP</text>
<line x1="224.5" y1="513.4" x2="224.5" y2="516.1" stroke="#222222" stroke-width="0.9"/>
<line x1="55.5" y1="527.3" x2="143.3" y2="527.3" stroke="#222" stroke-width="1.05"/>
<line x1="147.5" y1="527.3" x2="235" y2="527.3" stroke="#222" stroke-width="1.05"/>
<text transform="translate(97.9 540.5) rotate(0.03)" class="d" font-size="11.6" text-anchor="middle" letter-spacing="0.3">ZLY 819</text>
<text transform="translate(192.8 541.5) rotate(0.03)" class="d" font-size="10.9" text-anchor="middle" letter-spacing="0.3">ZJZ 17</text>
</g>
<g>
<line x1="438.4" y1="390" x2="438.4" y2="514.1" stroke="#141414" stroke-width="0.9" stroke-dasharray="2.8 1.93"/>
<rect x="350" y="448.74" width="9.6" height="65.36" fill="#808080"/>
<path d="M354.8 437.67V459.8M352.1 437.67H357.5M352.1 459.8H357.5" stroke="#1e1e1e" stroke-width="0.7" fill="none"/>
<text transform="translate(355.1 435.67) rotate(0.03) scale(1 1.04)" class="c" font-size="9.6" text-anchor="middle">a</text>
<rect x="360.9" y="458.36" width="9.6" height="55.74" fill="#fff" stroke="#555555" stroke-width="0.9"/>
<path d="M365.7 451V464.83M363 451H368.4M363 464.83H368.4" stroke="#1e1e1e" stroke-width="0.7" fill="none"/>
<text transform="translate(366 449) rotate(0.03) scale(1 1.04)" class="c" font-size="9.6" text-anchor="middle">a</text>
<rect x="381.65" y="449.99" width="9.6" height="64.11" fill="#808080"/>
<path d="M386.45 442.45V457.53M383.75 442.45H389.15M383.75 457.53H389.15" stroke="#1e1e1e" stroke-width="0.7" fill="none"/>
<text transform="translate(386.75 440.45) rotate(0.03) scale(1 1.04)" class="c" font-size="9.6" text-anchor="middle">a</text>
<rect x="392.55" y="446.67" width="9.6" height="67.43" fill="#fff" stroke="#555555" stroke-width="0.9"/>
<path d="M397.35 435.54V456.91M394.65 435.54H400.05M394.65 456.91H400.05" stroke="#1e1e1e" stroke-width="0.7" fill="none"/>
<text transform="translate(397.65 433.54) rotate(0.03) scale(1 1.04)" class="c" font-size="9.6" text-anchor="middle">a</text>
<rect x="413.3" y="473.88" width="9.6" height="40.22" fill="#808080"/>
<path d="M418.1 465.08V482.67M415.4 465.08H420.8M415.4 482.67H420.8" stroke="#1e1e1e" stroke-width="0.7" fill="none"/>
<text transform="translate(418.4 463.08) rotate(0.03) scale(1 1.04)" class="c" font-size="9.6" text-anchor="middle">a</text>
<rect x="424.2" y="478.1" width="9.6" height="36" fill="#fff" stroke="#555555" stroke-width="0.9"/>
<path d="M429 470.48V484.81M426.3 470.48H431.7M426.3 484.81H431.7" stroke="#1e1e1e" stroke-width="0.7" fill="none"/>
<text transform="translate(429.3 468.48) rotate(0.03) scale(1 1.04)" class="c" font-size="9.6" text-anchor="middle">a</text>
<rect x="444.95" y="444.59" width="9.6" height="69.51" fill="#808080"/>
<path d="M449.75 434.78V454.39M447.05 434.78H452.45M447.05 454.39H452.45" stroke="#1e1e1e" stroke-width="0.7" fill="none"/>
<text transform="translate(450.05 432.78) rotate(0.03) scale(1 1.04)" class="c" font-size="9.6" text-anchor="middle">a</text>
<rect x="455.85" y="426.56" width="9.6" height="87.54" fill="#fff" stroke="#555555" stroke-width="0.9"/>
<path d="M460.65 415.05V437.17M457.95 415.05H463.35M457.95 437.17H463.35" stroke="#1e1e1e" stroke-width="0.7" fill="none"/>
<text transform="translate(460.95 413.05) rotate(0.03) scale(1 1.04)" class="c" font-size="9.6" text-anchor="middle">a</text>
<rect x="476.6" y="425.73" width="9.6" height="88.37" fill="#808080"/>
<path d="M481.4 415.68V435.79M478.7 415.68H484.1M478.7 435.79H484.1" stroke="#1e1e1e" stroke-width="0.7" fill="none"/>
<text transform="translate(481.7 413.68) rotate(0.03) scale(1 1.04)" class="c" font-size="9.6" text-anchor="middle">a</text>
<rect x="487.5" y="431.21" width="9.6" height="82.89" fill="#fff" stroke="#555555" stroke-width="0.9"/>
<path d="M492.3 426.11V435.41M489.6 426.11H495M489.6 435.41H495" stroke="#1e1e1e" stroke-width="0.7" fill="none"/>
<text transform="translate(492.6 424.11) rotate(0.03) scale(1 1.04)" class="c" font-size="9.6" text-anchor="middle">a</text>
<rect x="508.25" y="456.53" width="9.6" height="57.57" fill="#808080"/>
<path d="M513.05 450.24V462.81M510.35 450.24H515.75M510.35 462.81H515.75" stroke="#1e1e1e" stroke-width="0.7" fill="none"/>
<text transform="translate(513.35 448.24) rotate(0.03) scale(1 1.04)" class="c" font-size="9.6" text-anchor="middle">a</text>
<rect x="519.15" y="461.25" width="9.6" height="52.85" fill="#fff" stroke="#555555" stroke-width="0.9"/>
<path d="M523.95 457.66V463.95M521.25 457.66H526.65M521.25 463.95H526.65" stroke="#1e1e1e" stroke-width="0.7" fill="none"/>
<text transform="translate(524.25 455.66) rotate(0.03) scale(1 1.04)" class="c" font-size="9.6" text-anchor="middle">a</text>
<path d="M345.1 387.8V514.62" stroke="#222222" stroke-width="1.6" fill="none"/>
<path d="M344.45 514.1H535" stroke="#222222" stroke-width="1.05" fill="none"/>
<line x1="342.5" y1="514.1" x2="345.1" y2="514.1" stroke="#222222" stroke-width="1.1"/>
<text transform="translate(340.9 516.1) rotate(0.03)" font-size="7.6" class="b" text-anchor="end">0</text>
<line x1="342.5" y1="488.96" x2="345.1" y2="488.96" stroke="#222222" stroke-width="1.1"/>
<text transform="translate(340.9 490.96) rotate(0.03)" font-size="7.6" class="b" text-anchor="end">2</text>
<line x1="342.5" y1="463.82" x2="345.1" y2="463.82" stroke="#222222" stroke-width="1.1"/>
<text transform="translate(340.9 465.82) rotate(0.03)" font-size="7.6" class="b" text-anchor="end">4</text>
<line x1="342.5" y1="438.68" x2="345.1" y2="438.68" stroke="#222222" stroke-width="1.1"/>
<text transform="translate(340.9 440.68) rotate(0.03)" font-size="7.6" class="b" text-anchor="end">6</text>
<line x1="342.5" y1="413.54" x2="345.1" y2="413.54" stroke="#222222" stroke-width="1.1"/>
<text transform="translate(340.9 415.54) rotate(0.03)" font-size="7.6" class="b" text-anchor="end">8</text>
<line x1="342.5" y1="388.4" x2="345.1" y2="388.4" stroke="#222222" stroke-width="1.1"/>
<text transform="translate(340.9 390.4) rotate(0.03)" font-size="7.6" class="b" text-anchor="end">10</text>
<text transform="translate(350 400) rotate(0.03) scale(1 1.04)" class="b" font-size="16.3">(f)</text>
<text transform="translate(360.3 525) rotate(0.03)" class="d" font-size="7.6" text-anchor="middle" letter-spacing="0.25">JT</text>
<line x1="360.2" y1="514.1" x2="360.2" y2="516.8" stroke="#222222" stroke-width="0.9"/>
<text transform="translate(391.95 525) rotate(0.03)" class="d" font-size="7.6" text-anchor="middle" letter-spacing="0.25">HD</text>
<line x1="391.85" y1="514.1" x2="391.85" y2="516.8" stroke="#222222" stroke-width="0.9"/>
<text transform="translate(423.6 525) rotate(0.03)" class="d" font-size="7.6" text-anchor="middle" letter-spacing="0.25">GFP</text>
<line x1="423.5" y1="514.1" x2="423.5" y2="516.8" stroke="#222222" stroke-width="0.9"/>
<text transform="translate(455.25 525) rotate(0.03)" class="d" font-size="7.6" text-anchor="middle" letter-spacing="0.25">JT</text>
<line x1="455.15" y1="514.1" x2="455.15" y2="516.8" stroke="#222222" stroke-width="0.9"/>
<text transform="translate(486.9 525) rotate(0.03)" class="d" font-size="7.6" text-anchor="middle" letter-spacing="0.25">HD</text>
<line x1="486.8" y1="514.1" x2="486.8" y2="516.8" stroke="#222222" stroke-width="0.9"/>
<text transform="translate(518.55 525) rotate(0.03)" class="d" font-size="7.6" text-anchor="middle" letter-spacing="0.25">GFP</text>
<line x1="518.45" y1="514.1" x2="518.45" y2="516.8" stroke="#222222" stroke-width="0.9"/>
<line x1="348" y1="527.6" x2="436.5" y2="527.6" stroke="#222" stroke-width="1.05"/>
<line x1="441.5" y1="527.6" x2="530.3" y2="527.6" stroke="#222" stroke-width="1.05"/>
<text transform="translate(392.4 542.4) rotate(0.03)" class="d" font-size="11.3" text-anchor="middle" letter-spacing="0.3">TY 390</text>
<text transform="translate(487 542.4) rotate(0.03)" class="d" font-size="11.3" text-anchor="middle" letter-spacing="0.3">XWX 13</text>
</g>
<text transform="translate(144.5 20.2) rotate(0.03)" font-size="19.1" text-anchor="middle">Early-season rice</text>
<text transform="translate(438 20.2) rotate(0.03)" font-size="19.1" text-anchor="middle">Late-season rice</text>
<rect x="94.8" y="32.3" width="10.1" height="7.3" fill="#808080"/>
<rect x="95.3" y="43.9" width="9.1" height="6.5" fill="#fff" stroke="#6e6e6e" stroke-width="1"/>
<text transform="translate(110.8 39.5) rotate(0.03)" font-size="10.4" letter-spacing="0.15">DPRN</text>
<text transform="translate(110.8 50.5) rotate(0.03)" font-size="10.4" letter-spacing="0.15">SPRN</text>
<rect x="388.9" y="33.4" width="10.1" height="7.3" fill="#808080"/>
<rect x="389.4" y="45.1" width="9.1" height="6.5" fill="#fff" stroke="#6e6e6e" stroke-width="1"/>
<text transform="translate(404.9 40.6) rotate(0.03)" font-size="10.4" letter-spacing="0.15">DPRN</text>
<text transform="translate(404.9 52) rotate(0.03)" font-size="10.4" letter-spacing="0.15">SPRN</text>
<text transform="translate(269.2 49.1) rotate(0.03)" font-size="14.6" text-anchor="middle">(2017)</text>
<text transform="translate(273.8 219.6) rotate(0.03)" font-size="14.6" text-anchor="middle">(2018)</text>
<text transform="translate(269.6 389.0) rotate(0.03)" font-size="14.6" text-anchor="middle">(2019)</text>
<text transform="translate(20.9 274.4) rotate(-90.03) scale(1 1.05)" class="d" font-size="16.9" text-anchor="middle">Leaf area index of rice (m<tspan font-size="11.2" dy="-6.6">2</tspan><tspan dy="6.6"> m</tspan><tspan font-size="11.2" dy="-6.6">-2</tspan><tspan dy="6.6">)</tspan></text>
<text transform="translate(323.2 274.4) rotate(-90.03) scale(1 1.05)" class="d" font-size="16.9" text-anchor="middle">Leaf area index of rice (m<tspan font-size="11.2" dy="-6.6">2</tspan><tspan dy="6.6"> m</tspan><tspan font-size="11.2" dy="-6.6">-2</tspan><tspan dy="6.6">)</tspan></text>
</svg>
</body>
</html>
